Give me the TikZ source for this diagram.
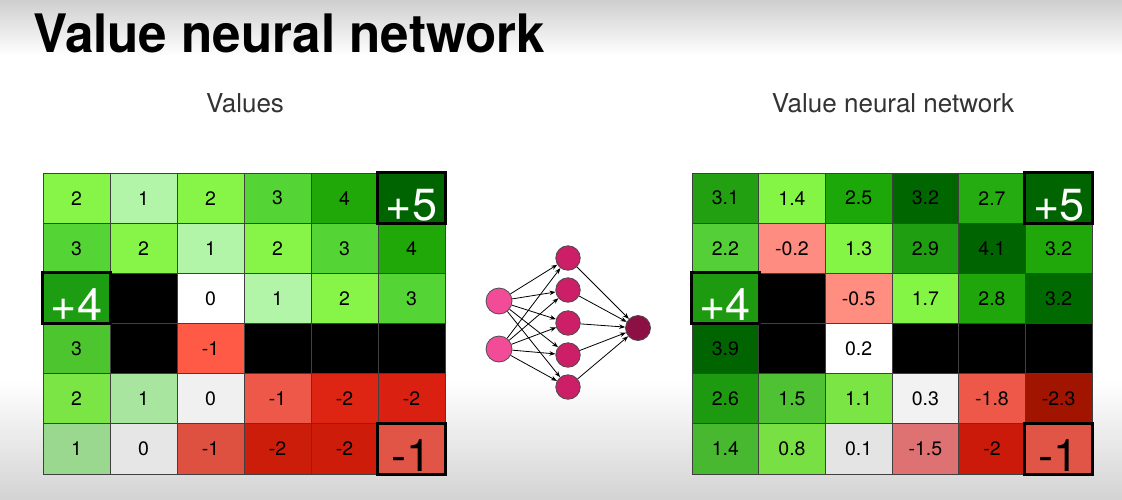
\documentclass[tikz,border=0pt]{standalone}
\usepackage{fontspec}
\setmainfont{TeX Gyre Heros}
\usetikzlibrary{arrows.meta,calc}
\definecolor{lbl}{HTML}{333333}
\definecolor{inp}{HTML}{F24C98}
\definecolor{hid}{HTML}{CC1F68}
\definecolor{outc}{HTML}{8C1044}
\begin{document}
\begin{tikzpicture}[x=1pt,y=-1pt,
  cellbox/.style={draw=black!75,line width=0.8pt,inner sep=0pt,
    minimum width=67pt,minimum height=50.17pt,
    font=\fontsize{19.5}{19.5}\selectfont},
  rcellbox/.style={cellbox,minimum width=66.67pt},
  bigtxt/.style={inner sep=0pt,anchor=base,font=\fontsize{45}{45}\selectfont},
  specbox/.style={draw=black,line width=3pt},
  neuron/.style={circle,draw=black!70,line width=0.8pt,inner sep=0pt},
  conn/.style={line width=0.8pt,-{Stealth[length=6pt,width=4.5pt]}},
  lab/.style={text=lbl,font=\fontsize{26}{26}\selectfont}]
\useasboundingbox (0,0) rectangle (1122,499);
\fill[white] (0,0) rectangle (1122,499);
\shade[top color=black!19,bottom color=white] (0,0) rectangle (1122,55);
\shade[top color=white,bottom color=black!17] (0,380) rectangle (1122,499);

\node[anchor=base west,inner sep=0pt,font=\fontsize{53}{53}\selectfont\bfseries] (title) at (33,52) {\scalebox{0.965}[1]{Value neural network}};
\node[lab] (lvals) at (245,103) {Values};
\node[lab] (rvals) at (893,103) {Value neural network};

% left grid
\foreach \row [count=\r] in {
 {86F548/2,B3F5A8/1,86F548/2,55D535/3,1FA808/4,006400/},
 {55D535/3,86F548/2,B3F5A8/1,86F548/2,55D535/3,1FA808/4},
 {1D9E12/,000000/,FFFFFF/0,B3F5A8/1,86F548/2,55D535/3},
 {4CC52F/3,000000/,FF5A45/-1,000000/,000000/,000000/},
 {7AE545/2,A8E6A0/1,F0F0F0/0,EE5848/-1,DE2412/-2,DA2010/-2},
 {9AD890/1,E6E6E6/0,DE5040/-1,CC1C0A/-2,CE1C0A/-2,E05545/}}
{
  \foreach \hexc/\t [count=\c] in \row {
    \definecolor{tmpc}{HTML}{\hexc}
    \node[cellbox,fill=tmpc] (L-\r-\c) at ({43+(\c-0.5)*67},{173+(\r-0.5)*50.17}) {\t};
  }
}
% right grid
\foreach \row [count=\r] in {
 {22A012/3.1,85F545/1.4,1CA808/2.5,006700/3.2,24AC10/2.7,006400/},
 {55CF38/2.2,FF8C80/-0.2,85F545/1.3,1E9E10/2.9,006400/4.1,20A80A/3.2},
 {1D9A10/,000000/,FF8E80/-0.5,85F545/1.7,1EA60A/2.8,006A00/3.2},
 {006400/3.9,000000/,FFFFFF/0.2,000000/,000000/,000000/},
 {1E9A10/2.6,4EC232/1.5,7AE545/1.1,F2F2F2/0.3,EE5848/-1.8,A01400/-2.3},
 {48B830/1.4,78E042/0.8,E4E4E4/0.1,DE7272/-1.5,CC1A0A/-2,E05545/}}
{
  \foreach \hexc/\t [count=\c] in \row {
    \definecolor{tmpc}{HTML}{\hexc}
    \node[rcellbox,fill=tmpc] (R-\r-\c) at ({692+(\c-0.5)*66.67},{173+(\r-0.5)*50.17}) {\t};
  }
}
% special cells
\foreach \g in {L,R} {
  \draw[specbox] (\g-1-6.north west) rectangle (\g-1-6.south east);
  \draw[specbox] (\g-3-1.north west) rectangle (\g-3-1.south east);
  \draw[specbox] (\g-6-6.north west) rectangle (\g-6-6.south east);
  \node[bigtxt,text=white] (\g-p5) at ($(\g-1-6.south)+(0,-3)$) {+5};
  \node[bigtxt,text=white] (\g-p4) at ($(\g-3-1.south)+(0,-3)$) {+4};
  \node[bigtxt,text=black] (\g-m1) at ($(\g-6-6.south)+(0,-3)$) {-1};
}

% neural network
\node[neuron,fill=inp,minimum size=26pt] (I1) at (499,301) {};
\node[neuron,fill=inp,minimum size=26pt] (I2) at (499,349) {};
\foreach \y [count=\k] in {258,290,323,355,387}
  \node[neuron,fill=hid,minimum size=24.5pt] (H\k) at (568,\y) {};
\node[neuron,fill=outc,minimum size=25pt] (O) at (638,328) {};
\foreach \i in {1,2}
  \foreach \k in {1,...,5}
    \draw[conn] (I\i) -- (H\k);
\foreach \k in {1,...,5}
  \draw[conn] (H\k) -- (O);
\end{tikzpicture}
\end{document}
